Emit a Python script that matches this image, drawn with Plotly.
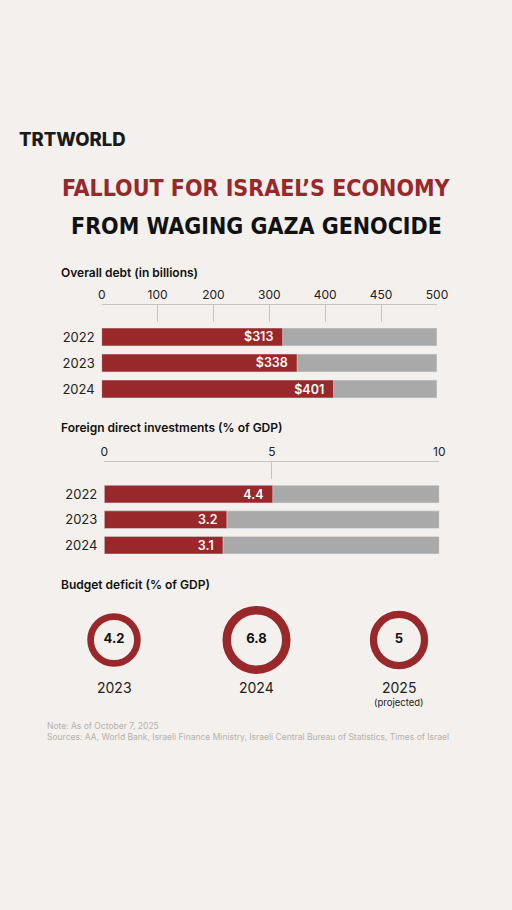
import math
import plotly.graph_objects as go

W, H = 512, 910
BG = "#f3f0ed"
RED = "#98282a"
GREY = "#a9a9a9"
TICKC = "#c6c2be"
FONT = "Inter"
HEAD = "Liberation Sans Narrow, DejaVu Sans Condensed, Roboto Condensed, Arial Narrow, sans-serif"

# overall debt (billions)
debt_years = ["2022", "2023", "2024"]
debt_values = [313, 338, 401]
debt_labels = ["$313", "$338", "$401"]
debt_ticks = ["0", "100", "200", "300", "400", "450", "500"]
debt_track = 580

# foreign direct investments (% of GDP)
fdi_years = ["2022", "2023", "2024"]
fdi_values = [4.4, 3.2, 3.1]
fdi_ticks = ["0", "5", "10"]
fdi_track = 8.75

# budget deficit (% of GDP)
deficit_years = ["2023", "2024", "2025"]
deficit_values = [4.2, 6.8, 5]
deficit_sub = ["", "", "(projected)"]


def py(p):
    # pixel row -> paper y
    return 1 - p / H


fig = go.Figure()

bar_text = dict(color="white", size=12.5, family=FONT, weight=600)
pad = "%{text}\u00a0\u00a0"

# --- debt bars
fig.add_trace(go.Bar(x=[debt_track] * 3, y=debt_years, orientation="h",
                     marker_color=GREY, hoverinfo="skip",
                     xaxis="x", yaxis="y"))
fig.add_trace(go.Bar(x=debt_values, y=debt_years, orientation="h",
                     marker_color=RED, text=debt_labels, texttemplate=pad,
                     textposition="inside", insidetextanchor="end",
                     textfont=bar_text, constraintext="none", xaxis="x", yaxis="y"))

# --- fdi bars
fig.add_trace(go.Bar(x=[fdi_track] * 3, y=fdi_years, orientation="h",
                     marker_color=GREY, hoverinfo="skip",
                     xaxis="x2", yaxis="y2"))
fig.add_trace(go.Bar(x=fdi_values, y=fdi_years, orientation="h",
                     marker_color=RED, text=[str(v) for v in fdi_values],
                     texttemplate=pad,
                     textposition="inside", insidetextanchor="end",
                     textfont=bar_text, constraintext="none", xaxis="x2", yaxis="y2"))

# --- deficit rings, area scaled by value
diam = [26.1 * math.sqrt(v) for v in deficit_values]
fig.add_trace(go.Scatter(x=deficit_years, y=[0.5] * 3, mode="markers+text",
                         marker=dict(size=[d * 0.875 for d in diam], color=BG, opacity=1,
                                     line=dict(color=RED, width=[d * 0.125 for d in diam])),
                         text=[str(v) for v in deficit_values],
                         textposition="middle center",
                         textfont=dict(color="#111111", size=13, family=FONT, weight=700),
                         xaxis="x3", yaxis="y3"))

axis_font = dict(family=FONT, size=12, color="#222222")
ylab_font = dict(family=FONT, size=13, color="#222222")

fig.update_layout(
    width=W, height=H,
    paper_bgcolor=BG, plot_bgcolor=BG,
    margin=dict(l=0, r=0, t=0, b=0),
    showlegend=False, barmode="overlay", bargap=0.31,
    font=dict(family=FONT, color="#222222"),
    xaxis=dict(domain=[101.7 / W, 437 / W], range=[0, debt_track],
               side="top", anchor="y", automargin=False,
               tickvals=[debt_track * i / (len(debt_ticks) - 1) for i in range(len(debt_ticks))],
               ticktext=debt_ticks, ticks="inside", ticklen=17, tickcolor=TICKC,
               tickwidth=1, showline=True, linecolor=TICKC, linewidth=1,
               showgrid=False, zeroline=False, tickfont=axis_font),
    yaxis=dict(domain=[py(402), py(305)], range=[2.5, -1.23], anchor="x", automargin=False,
               showline=False, showgrid=False, zeroline=False, ticks="",
               tickfont=ylab_font, ticklabelstandoff=6),
    xaxis2=dict(domain=[104.3 / W, 439.3 / W], range=[0, fdi_track],
                side="top", anchor="y2", automargin=False,
                tickvals=[fdi_track * i / (len(fdi_ticks) - 1) for i in range(len(fdi_ticks))],
                ticktext=fdi_ticks, ticks="inside", ticklen=17, tickcolor=TICKC,
                tickwidth=1, showline=True, linecolor=TICKC, linewidth=1,
                showgrid=False, zeroline=False, tickfont=axis_font),
    yaxis2=dict(domain=[py(558), py(461.7)], range=[2.5, -1.27], anchor="x2", automargin=False,
                showline=False, showgrid=False, zeroline=False, ticks="",
                tickfont=ylab_font, ticklabelstandoff=6),
    xaxis3=dict(domain=[42.75 / W, 470.25 / W], range=[-0.5, 2.5], anchor="y3",
                type="category", visible=False, automargin=False),
    yaxis3=dict(domain=[py(680), py(600)], range=[0, 1], anchor="x3", visible=False,
                automargin=False),
)

ann = []
# logo
ann.append(dict(text="TRTWORLD", x=17 / W, y=py(139), xanchor="left", yanchor="middle",
                font=dict(family=FONT, size=18.5, color="#1a1a1a", weight=800)))
# headline
ann.append(dict(text="FALLOUT FOR ISRAEL\u2019S ECONOMY", x=0.5, y=py(188), xanchor="center",
                yanchor="middle", font=dict(family=HEAD, size=23, color=RED, weight=700)))
ann.append(dict(text="FROM WAGING GAZA GENOCIDE", x=0.5, y=py(226), xanchor="center",
                yanchor="middle", font=dict(family=HEAD, size=23, color="#111111", weight=700)))
# section titles
for txt, row in [("Overall debt (in billions)", 272), ("Foreign direct investments (% of GDP)", 427.5),
                 ("Budget deficit (% of GDP)", 584)]:
    ann.append(dict(text=txt, x=59 / W, y=py(row), xanchor="left", yanchor="middle",
                    font=dict(family=FONT, size=12, color="#111111", weight=600)))
# deficit year labels
for i, (yr, sub) in enumerate(zip(deficit_years, deficit_sub)):
    ann.append(dict(text=yr, x=i, xref="x3", y=py(687), yanchor="middle", borderpad=0,
                    font=dict(family=FONT, size=14, color="#222222")))
    if sub:
        ann.append(dict(text=sub, x=i, xref="x3", y=py(702), yanchor="middle", borderpad=0,
                        font=dict(family=FONT, size=9.5, color="#222222")))
# notes
ann.append(dict(text="Note: As of October 7, 2025", x=45 / W, y=py(726), xanchor="left",
                yanchor="middle", font=dict(family=FONT, size=8.5, color="#b5b0ab")))
ann.append(dict(text="Sources: AA, World Bank, Israeli Finance Ministry, Israeli Central Bureau of Statistics, Times of Israel",
                x=45 / W, y=py(736.5), xanchor="left", yanchor="middle",
                font=dict(family=FONT, size=8.5, color="#b5b0ab")))

for a in ann:
    a.setdefault("xref", "paper")
    a["yref"] = "paper"
    a["showarrow"] = False
fig.update_layout(annotations=ann)

fig.write_html("out.html", config={"displayModeBar": False},
               post_script="document.body.style.margin='0px';")
